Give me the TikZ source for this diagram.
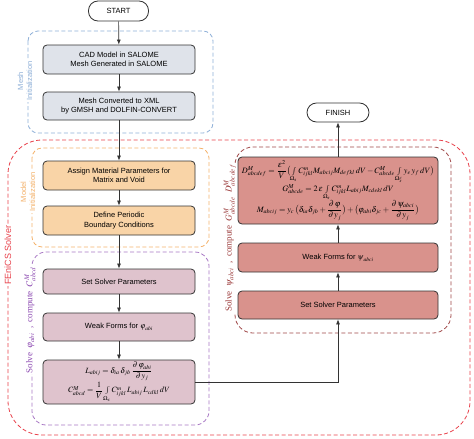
\documentclass[tikz,border=0pt]{standalone}
\usepackage{amsmath}
\usepackage{mathptmx}
\usepackage{fontspec}
\setmainfont{Liberation Serif}
\setsansfont{Liberation Sans}
\usetikzlibrary{arrows.meta}
\definecolor{meshfill}{HTML}{DFE3EA}
\definecolor{orfill}{HTML}{F9D4A7}
\definecolor{mvfill}{HTML}{DFC3CD}
\definecolor{slfill}{HTML}{D9928C}
\definecolor{bluedash}{HTML}{8FB0D8}
\definecolor{ordash}{HTML}{F4B26B}
\definecolor{reddash}{HTML}{E8404A}
\definecolor{purdash}{HTML}{A878C4}
\definecolor{purtxt}{HTML}{8A46B0}
\definecolor{drdash}{HTML}{A04848}
\definecolor{drtxt}{HTML}{9A3838}
\definecolor{edge}{HTML}{333333}
\tikzset{
  procbox/.style={draw=edge, line width=0.8pt, rounded corners=4pt, align=center,
    inner sep=0pt, minimum width=152pt, font=\sffamily\fontsize{7.5}{9.5}\selectfont},
  termbox/.style={draw=edge, line width=0.8pt, rounded corners=9.5pt, align=center,
    inner sep=0pt, fill=white, font=\sffamily\fontsize{7.5}{9}\selectfont},
  grp/.style={dashed, line width=0.8pt, dash pattern=on 4pt off 2.5pt},
  grplabel/.style={rotate=90, fill=white, align=center, inner sep=1pt},
  flow/.style={draw=edge, line width=0.7pt, -{Latex[length=5pt,width=4pt]}}
}
\begin{document}
\begin{tikzpicture}[x=1pt,y=-1pt]
\useasboundingbox (0,0) rectangle (474,439);
% group frames
\draw[grp, draw=bluedash, rounded corners=10pt] (28,31) rectangle (213,133);
\draw[grp, draw=reddash, rounded corners=34pt] (8,140) rectangle (470,435);
\draw[grp, draw=ordash, rounded corners=10pt] (32,148) rectangle (209,247);
\draw[grp, draw=purdash, rounded corners=14pt] (32,252) rectangle (209,425);
\draw[grp, draw=drdash, rounded corners=18pt] (235,147) rectangle (451,333);
% group labels
\node[grplabel, text=bluedash, font=\sffamily\fontsize{7.5}{9}\selectfont] (lmesh) at (25,81) {Mesh\\Initialization};
\node[grplabel, text=ordash, font=\sffamily\fontsize{7.5}{9}\selectfont] (lmodel) at (28,192) {Model\\Initialization};
\node[grplabel, text=reddash, font=\sffamily\fontsize{9}{11}\selectfont] (lfen) at (8,255) {FEniCS Solver};
\node[grplabel, text=purtxt, font=\fontsize{9}{10}\selectfont] (lpur) at (30,320) {Solve \ $\varphi_{abi}$ \ , \ compute \ $C^{M}_{abcd}$};
\node[grplabel, text=drtxt, font=\fontsize{9}{10}\selectfont] (ldr) at (230,238) {Solve \ $\psi_{abci}$ \ , \ compute \ $G^{M}_{abcde}$ \ $D^{M}_{abcdef}$};
% nodes
\node[termbox, minimum width=60pt, minimum height=20pt] (start) at (118.5,11) {START};
\node[procbox, fill=meshfill, minimum height=29pt] (cad) at (119,59.5) {CAD Model in SALOME\\Mesh Generated in SALOME};
\node[procbox, fill=meshfill, minimum height=28pt] (conv) at (119,106) {Mesh Converted to XML\\by GMSH and DOLFIN-CONVERT};
\node[procbox, fill=orfill, minimum height=29pt] (assign) at (119,175.5) {Assign Material Parameters for\\Matrix and Void};
\node[procbox, fill=orfill, minimum height=29pt] (define) at (119,220.5) {Define Periodic\\Boundary Conditions};
\node[procbox, fill=mvfill, minimum height=25pt] (ssp1) at (119,281.5) {Set Solver Parameters};
\node[procbox, fill=mvfill, minimum height=28pt] (weak1) at (119,327) {Weak Forms for $\boldsymbol{\varphi}_{abi}$};
\node[procbox, fill=mvfill, minimum height=44pt, font=\fontsize{8}{9}\selectfont] (eq1) at (119,382) {%
  $L_{abij}=\delta_{ia}\,\delta_{jb}\,\dfrac{\partial\,\varphi_{abi}}{\partial\,y_j}$\\[0pt]
  $C^{M}_{abcd}=\dfrac{1}{V}\int\limits_{\Omega_s} C^{m}_{ijkl}\,L_{abij}\,L_{cdkl}\,dV$};
\node[termbox, minimum width=62pt, minimum height=19pt] (finish) at (338,112.5) {FINISH};
\node[procbox, fill=slfill, minimum width=200pt, minimum height=67pt, font=\fontsize{8.2}{9}\selectfont] (eqD) at (338,190.5) {%
  $D^{M}_{abcdef}=\dfrac{\varepsilon^2}{V}\bigl(\int\limits_{\Omega_s} C^{m}_{ijkl} M_{abcij} M_{defkl}\,dV-C^{M}_{abcde}\int\limits_{\Omega_s^c} y_e\,y_f\,dV\bigr)$\\[0pt]
  $G^{M}_{abcde}=2\,\varepsilon\int\limits_{\Omega_s} C^{m}_{ijkl} L_{abij} M_{cdekl}\,dV$\\[-1pt]
  $M_{abcij}=y_c\,\bigl(\delta_{ia}\delta_{jb}+\dfrac{\partial\,\varphi}{\partial\,y_j}\bigr)+\bigl(\varphi_{abi}\delta_{jc}+\dfrac{\partial\,\psi_{abci}}{\partial\,y_j}\bigr)$};
\node[procbox, fill=slfill, minimum width=200pt, minimum height=29pt] (weak2) at (338,257.5) {Weak Forms for $\boldsymbol{\psi}_{abci}$};
\node[procbox, fill=slfill, minimum width=200pt, minimum height=28pt] (ssp2) at (338,305) {Set Solver Parameters};
% connectors
\draw[flow] (start) -- (cad);
\draw[flow] (cad) -- (conv);
\draw[flow] (conv) -- (assign);
\draw[flow] (assign) -- (define);
\draw[flow] (define) -- (ssp1);
\draw[flow] (ssp1) -- (weak1);
\draw[flow] (weak1) -- (eq1);
\draw[flow] (eq1.east) -| (ssp2.south);
\draw[flow] (ssp2) -- (weak2);
\draw[flow] (weak2) -- (eqD);
\draw[flow] (eqD) -- (finish);
\end{tikzpicture}
\end{document}
